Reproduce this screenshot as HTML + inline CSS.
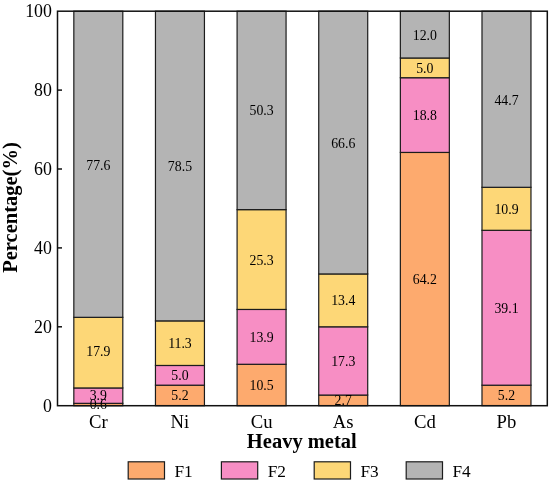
<!DOCTYPE html><html><head><meta charset="utf-8"><title>chart</title><style>html,body{margin:0;padding:0;background:#fff}</style></head><body><svg width="550" height="482" viewBox="0 0 550 482" style="display:block;font-family:'Liberation Serif',serif">
<rect width="550" height="482" fill="#fff"/>
<rect x="73.83" y="403.33" width="48.98" height="2.37" fill="#FDAA6E" stroke="#1c1c1c" stroke-width="1.2"/>
<rect x="73.83" y="387.95" width="48.98" height="15.39" fill="#F78EC4" stroke="#1c1c1c" stroke-width="1.2"/>
<rect x="73.83" y="317.33" width="48.98" height="70.62" fill="#FDD777" stroke="#1c1c1c" stroke-width="1.2"/>
<rect x="73.83" y="11.20" width="48.98" height="306.13" fill="#B4B4B4" stroke="#1c1c1c" stroke-width="1.2"/>
<text transform="translate(98.32,408.92) scale(0.94,1)" font-size="14.7" text-anchor="middle" fill="#000">0.6</text>
<text transform="translate(98.32,400.04) scale(0.94,1)" font-size="14.7" text-anchor="middle" fill="#000">3.9</text>
<text transform="translate(98.32,356.14) scale(0.94,1)" font-size="14.7" text-anchor="middle" fill="#000">17.9</text>
<text transform="translate(98.32,170.07) scale(0.94,1)" font-size="14.7" text-anchor="middle" fill="#000">77.6</text>
<text x="98.32" y="427.7" font-size="18.7" text-anchor="middle" fill="#000">Cr</text>
<rect x="155.46" y="385.19" width="48.98" height="20.51" fill="#FDAA6E" stroke="#1c1c1c" stroke-width="1.2"/>
<rect x="155.46" y="365.46" width="48.98" height="19.72" fill="#F78EC4" stroke="#1c1c1c" stroke-width="1.2"/>
<rect x="155.46" y="320.88" width="48.98" height="44.58" fill="#FDD777" stroke="#1c1c1c" stroke-width="1.2"/>
<rect x="155.46" y="11.20" width="48.98" height="309.68" fill="#B4B4B4" stroke="#1c1c1c" stroke-width="1.2"/>
<text transform="translate(179.95,400.44) scale(0.94,1)" font-size="14.7" text-anchor="middle" fill="#000">5.2</text>
<text transform="translate(179.95,380.32) scale(0.94,1)" font-size="14.7" text-anchor="middle" fill="#000">5.0</text>
<text transform="translate(179.95,348.17) scale(0.94,1)" font-size="14.7" text-anchor="middle" fill="#000">11.3</text>
<text transform="translate(179.95,171.04) scale(0.94,1)" font-size="14.7" text-anchor="middle" fill="#000">78.5</text>
<text x="179.95" y="427.7" font-size="18.7" text-anchor="middle" fill="#000">Ni</text>
<rect x="237.09" y="364.28" width="48.98" height="41.42" fill="#FDAA6E" stroke="#1c1c1c" stroke-width="1.2"/>
<rect x="237.09" y="309.44" width="48.98" height="54.84" fill="#F78EC4" stroke="#1c1c1c" stroke-width="1.2"/>
<rect x="237.09" y="209.63" width="48.98" height="99.81" fill="#FDD777" stroke="#1c1c1c" stroke-width="1.2"/>
<rect x="237.09" y="11.20" width="48.98" height="198.43" fill="#B4B4B4" stroke="#1c1c1c" stroke-width="1.2"/>
<text transform="translate(261.58,389.99) scale(0.94,1)" font-size="14.7" text-anchor="middle" fill="#000">10.5</text>
<text transform="translate(261.58,341.86) scale(0.94,1)" font-size="14.7" text-anchor="middle" fill="#000">13.9</text>
<text transform="translate(261.58,264.54) scale(0.94,1)" font-size="14.7" text-anchor="middle" fill="#000">25.3</text>
<text transform="translate(261.58,115.42) scale(0.94,1)" font-size="14.7" text-anchor="middle" fill="#000">50.3</text>
<text x="261.58" y="427.7" font-size="18.7" text-anchor="middle" fill="#000">Cu</text>
<rect x="318.73" y="395.05" width="48.98" height="10.65" fill="#FDAA6E" stroke="#1c1c1c" stroke-width="1.2"/>
<rect x="318.73" y="326.80" width="48.98" height="68.25" fill="#F78EC4" stroke="#1c1c1c" stroke-width="1.2"/>
<rect x="318.73" y="273.94" width="48.98" height="52.86" fill="#FDD777" stroke="#1c1c1c" stroke-width="1.2"/>
<rect x="318.73" y="11.20" width="48.98" height="262.74" fill="#B4B4B4" stroke="#1c1c1c" stroke-width="1.2"/>
<text transform="translate(343.22,405.37) scale(0.94,1)" font-size="14.7" text-anchor="middle" fill="#000">2.7</text>
<text transform="translate(343.22,365.92) scale(0.94,1)" font-size="14.7" text-anchor="middle" fill="#000">17.3</text>
<text transform="translate(343.22,305.37) scale(0.94,1)" font-size="14.7" text-anchor="middle" fill="#000">13.4</text>
<text transform="translate(343.22,147.57) scale(0.94,1)" font-size="14.7" text-anchor="middle" fill="#000">66.6</text>
<text x="343.22" y="427.7" font-size="18.7" text-anchor="middle" fill="#000">As</text>
<rect x="400.36" y="152.43" width="48.98" height="253.27" fill="#FDAA6E" stroke="#1c1c1c" stroke-width="1.2"/>
<rect x="400.36" y="77.71" width="48.98" height="74.72" fill="#F78EC4" stroke="#1c1c1c" stroke-width="1.2"/>
<rect x="400.36" y="57.99" width="48.98" height="19.73" fill="#FDD777" stroke="#1c1c1c" stroke-width="1.2"/>
<rect x="400.36" y="11.20" width="48.98" height="46.79" fill="#B4B4B4" stroke="#1c1c1c" stroke-width="1.2"/>
<text transform="translate(424.85,284.07) scale(0.94,1)" font-size="14.7" text-anchor="middle" fill="#000">64.2</text>
<text transform="translate(424.85,120.35) scale(0.94,1)" font-size="14.7" text-anchor="middle" fill="#000">18.8</text>
<text transform="translate(424.85,73.40) scale(0.94,1)" font-size="14.7" text-anchor="middle" fill="#000">5.0</text>
<text transform="translate(424.85,39.87) scale(0.94,1)" font-size="14.7" text-anchor="middle" fill="#000">12.0</text>
<text x="424.85" y="427.7" font-size="18.7" text-anchor="middle" fill="#000">Cd</text>
<rect x="481.99" y="385.19" width="48.98" height="20.51" fill="#FDAA6E" stroke="#1c1c1c" stroke-width="1.2"/>
<rect x="481.99" y="230.31" width="48.98" height="154.88" fill="#F78EC4" stroke="#1c1c1c" stroke-width="1.2"/>
<rect x="481.99" y="187.30" width="48.98" height="43.00" fill="#FDD777" stroke="#1c1c1c" stroke-width="1.2"/>
<rect x="481.99" y="11.20" width="48.98" height="176.10" fill="#B4B4B4" stroke="#1c1c1c" stroke-width="1.2"/>
<text transform="translate(506.48,400.44) scale(0.94,1)" font-size="14.7" text-anchor="middle" fill="#000">5.2</text>
<text transform="translate(506.48,313.06) scale(0.94,1)" font-size="14.7" text-anchor="middle" fill="#000">39.1</text>
<text transform="translate(506.48,214.44) scale(0.94,1)" font-size="14.7" text-anchor="middle" fill="#000">10.9</text>
<text transform="translate(506.48,104.77) scale(0.94,1)" font-size="14.7" text-anchor="middle" fill="#000">44.7</text>
<text x="506.48" y="427.7" font-size="18.7" text-anchor="middle" fill="#000">Pb</text>
<rect x="57.5" y="11.2" width="489.79999999999995" height="394.5" fill="none" stroke="#111" stroke-width="1.5"/>
<text transform="translate(51.9,411.60) scale(0.975,1)" font-size="18.3" text-anchor="end" fill="#000">0</text>
<line x1="57.5" x2="62.0" y1="326.80" y2="326.80" stroke="#111" stroke-width="1.5"/>
<text transform="translate(51.9,332.70) scale(0.975,1)" font-size="18.3" text-anchor="end" fill="#000">20</text>
<line x1="57.5" x2="62.0" y1="247.90" y2="247.90" stroke="#111" stroke-width="1.5"/>
<text transform="translate(51.9,253.80) scale(0.975,1)" font-size="18.3" text-anchor="end" fill="#000">40</text>
<line x1="57.5" x2="62.0" y1="169.00" y2="169.00" stroke="#111" stroke-width="1.5"/>
<text transform="translate(51.9,174.90) scale(0.975,1)" font-size="18.3" text-anchor="end" fill="#000">60</text>
<line x1="57.5" x2="62.0" y1="90.10" y2="90.10" stroke="#111" stroke-width="1.5"/>
<text transform="translate(51.9,96.00) scale(0.975,1)" font-size="18.3" text-anchor="end" fill="#000">80</text>
<text transform="translate(51.9,17.10) scale(0.975,1)" font-size="18.3" text-anchor="end" fill="#000">100</text>
<text x="301.8" y="448.2" font-size="20.5" font-weight="bold" text-anchor="middle" fill="#000">Heavy metal</text>
<text transform="translate(16.9,207.5) rotate(-90)" font-size="20.5" font-weight="bold" text-anchor="middle" fill="#000">Percentage(%)</text>
<rect x="128.2" y="461.8" width="36.3" height="17.2" fill="#FDAA6E" stroke="#1c1c1c" stroke-width="1.2"/>
<text x="174.5" y="476.5" font-size="17.3" fill="#000">F1</text>
<rect x="221.4" y="461.8" width="36.3" height="17.2" fill="#F78EC4" stroke="#1c1c1c" stroke-width="1.2"/>
<text x="267.7" y="476.5" font-size="17.3" fill="#000">F2</text>
<rect x="314.2" y="461.8" width="36.3" height="17.2" fill="#FDD777" stroke="#1c1c1c" stroke-width="1.2"/>
<text x="360.5" y="476.5" font-size="17.3" fill="#000">F3</text>
<rect x="406.2" y="461.8" width="36.3" height="17.2" fill="#B4B4B4" stroke="#1c1c1c" stroke-width="1.2"/>
<text x="452.5" y="476.5" font-size="17.3" fill="#000">F4</text>
</svg></body></html>
